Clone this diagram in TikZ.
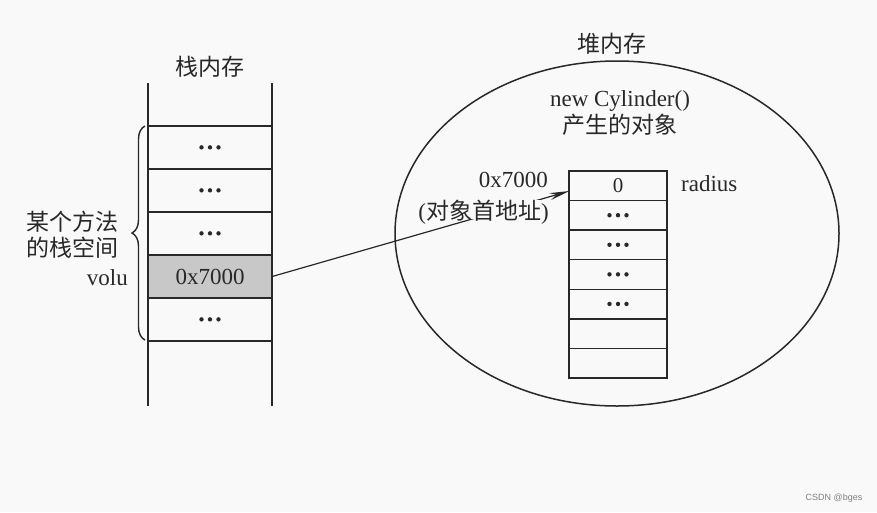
\documentclass[tikz,border=0pt]{standalone}
\usepackage{fontspec}
\setmainfont{Liberation Serif}
\newfontfamily\cjk{Noto Sans CJK SC}
\newfontfamily\wmfont{Liberation Sans}
\usetikzlibrary{arrows.meta,decorations.pathreplacing,shapes.geometric}
\definecolor{bg}{RGB}{249,249,249}
\definecolor{ln}{RGB}{40,40,40}
\definecolor{cellgray}{RGB}{200,200,200}
\newcommand\tdots{\tikz[baseline=-2.5pt,x=1pt,y=1pt]{\foreach \i in {0,1,2} \fill[ln] (\i*8.5,0) circle (2.2);}}
\tikzset{
  txt/.style={font=\fontsize{23}{30}\selectfont, text=ln, inner sep=1pt},
  scell/.style={draw=ln, line width=1.4pt, minimum width=123pt, minimum height=43pt, inner sep=0pt, font=\fontsize{23}{26}\selectfont, text=ln},
  hcell/.style={draw=ln, line width=1.4pt, minimum width=98pt, minimum height=29.57pt, inner sep=0pt, font=\fontsize{21}{24}\selectfont, text=ln},
}
\begin{document}
\begin{tikzpicture}[x=1pt,y=-1pt]
\fill[bg] (0,0) rectangle (877,512);
\useasboundingbox (0,0) rectangle (877,512);
% stack
\draw[ln, line width=1.6pt] (148,83) -- (148,406);
\draw[ln, line width=1.6pt] (272,83) -- (272,406);
\node[txt] (stacktitle) at (210,67) {\cjk 栈内存};
\node[scell] (s1) at (210,147.5) {\tdots};
\node[scell] (s2) at (210,190.5) {\tdots};
\node[scell] (s3) at (210,233.5) {\tdots};
\node[scell, fill=cellgray] (s4) at (210,276.5) {0x7000};
\node[scell] (s5) at (210,319.5) {\tdots};
\draw[ln, line width=1.4pt, decorate, decoration={brace, amplitude=13pt}] (145,340) -- (145,126);
\node[txt, align=center] (method) at (72,235) {\cjk 某个方法\\[-4pt]\cjk 的栈空间};
\node[txt, anchor=east] (volu) at (129,278) {volu};
% heap
\node[draw=ln, line width=1.5pt, ellipse, minimum width=444pt, minimum height=345pt, inner sep=0pt] (heap) at (617,233.5) {};
\node[txt] (heaptitle) at (612,44) {\cjk 堆内存};
\node[txt, align=center] (newcyl) at (620,113) {new Cylinder()\\[-3pt]{\cjk 产生的对象}};
\foreach \k/\t in {0/0,1/\tdots,2/\tdots,3/\tdots,4/\tdots,5/,6/} {
  \node[hcell] (h\k) at (618,185.8+\k*29.57) {\t};
}
\node[txt, anchor=west] (radius) at (680,184) {radius};
\coordinate (tip) at (569.5,191);
\draw[ln, line width=1.2pt, -{Stealth[length=20pt,width=7pt]}] (s4.east) -- (tip);
\node[txt, anchor=east] (addr) at (549,180) {0x7000};
\node[txt, fill=bg, anchor=base east, inner sep=0pt, text depth=0pt] (addrnote) at (549,219) {(\cjk 对象首地址\rmfamily)};
\node[font=\wmfont\fontsize{9}{10}\selectfont, text=gray] (wm) at (834,498) {CSDN @bges};
\end{tikzpicture}
\end{document}
